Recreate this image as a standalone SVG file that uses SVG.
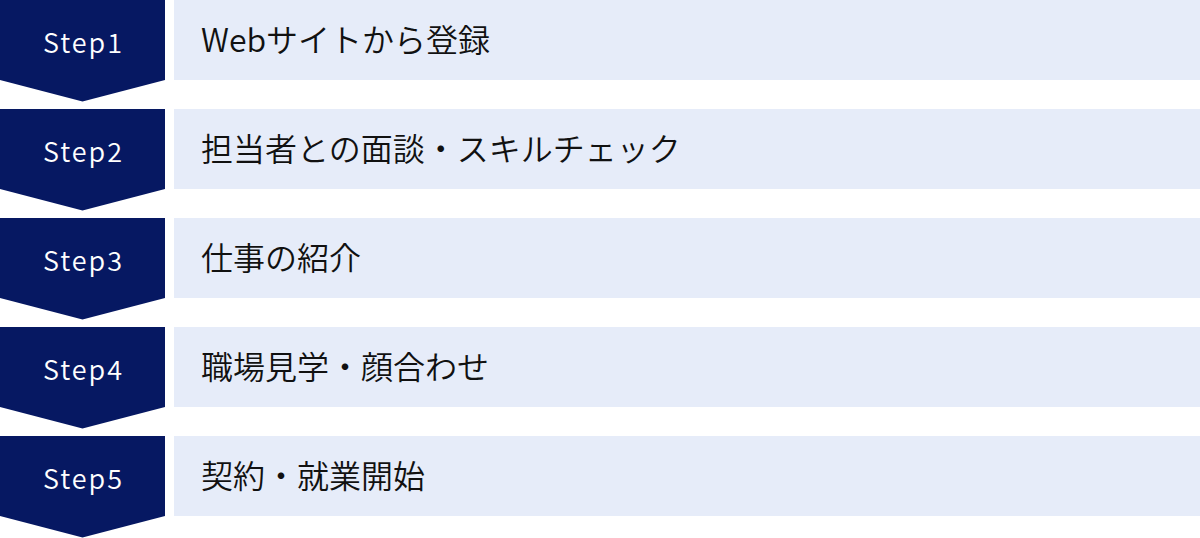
<svg xmlns="http://www.w3.org/2000/svg" width="1200" height="538" viewBox="0 0 1200 538">
<style>
.chev{fill:#061862}
.box{fill:#e6ecf9}
.step{font-family:"Noto Sans CJK JP","Noto Sans",sans-serif;font-size:27px;font-weight:350;fill:#ffffff;text-anchor:middle;letter-spacing:2px}
.label{font-family:"Noto Sans CJK JP","Noto Sans",sans-serif;font-size:32px;font-weight:350;fill:#111111}
</style>
<defs>
<polygon id="chevShape" points="0,0 165,0 165,80 82.5,101.5 0,80"/>
</defs>
<g id="step1" transform="translate(0,0)">
<use href="#chevShape" class="chev"/>
<rect class="box" x="174" y="0" width="1026" height="80"/>
<text class="step" x="83.5" y="53">Step1</text>
<text class="label" x="201" y="52">Webサイトから登録</text>
</g>
<g id="step2" transform="translate(0,109)">
<use href="#chevShape" class="chev"/>
<rect class="box" x="174" y="0" width="1026" height="80"/>
<text class="step" x="83.5" y="53">Step2</text>
<text class="label" x="201" y="52">担当者との面談・スキルチェック</text>
</g>
<g id="step3" transform="translate(0,218)">
<use href="#chevShape" class="chev"/>
<rect class="box" x="174" y="0" width="1026" height="80"/>
<text class="step" x="83.5" y="53">Step3</text>
<text class="label" x="201" y="52">仕事の紹介</text>
</g>
<g id="step4" transform="translate(0,327)">
<use href="#chevShape" class="chev"/>
<rect class="box" x="174" y="0" width="1026" height="80"/>
<text class="step" x="83.5" y="53">Step4</text>
<text class="label" x="201" y="52">職場見学・顔合わせ</text>
</g>
<g id="step5" transform="translate(0,436)">
<use href="#chevShape" class="chev"/>
<rect class="box" x="174" y="0" width="1026" height="80"/>
<text class="step" x="83.5" y="53">Step5</text>
<text class="label" x="201" y="52">契約・就業開始</text>
</g>
<g id="connectors"></g>
</svg>
